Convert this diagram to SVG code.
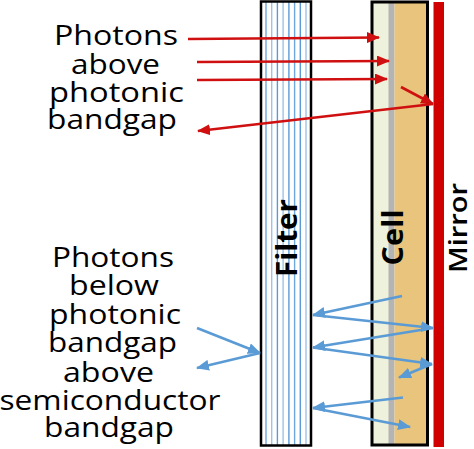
<svg xmlns="http://www.w3.org/2000/svg" width="474" height="449" viewBox="0 0 474 449">
<defs>
<style>
.lbl{font-family:"Open Sans","Liberation Sans",sans-serif;font-size:27px;fill:#000;text-anchor:middle}
.rot{font-family:"Open Sans","Liberation Sans",sans-serif;font-weight:bold;font-size:28px;fill:#000;text-anchor:middle}
.red{stroke:#d01010;stroke-width:2.6;fill:none}
.blue{stroke:#5b9bd5;stroke-width:2.6;fill:none}
.fl{stroke-width:1.4}
</style>
<marker id="ahr" markerUnits="userSpaceOnUse" markerWidth="13" markerHeight="11" refX="12" refY="5.5" orient="auto">
<path d="M0,0 L13,5.5 L0,11 z" fill="#d01010"/>
</marker>
<marker id="ahb" markerUnits="userSpaceOnUse" markerWidth="13" markerHeight="11" refX="12" refY="5.5" orient="auto">
<path d="M0,0 L13,5.5 L0,11 z" fill="#5b9bd5"/>
</marker>
</defs>
<rect width="474" height="449" fill="#fff"/>

<g id="filter">
<rect x="261" y="1.5" width="50" height="444" fill="#fff"/>
<g class="fl">
<line x1="266" y1="2" x2="266" y2="445" stroke="#6fa8dc"/>
<line x1="271.7" y1="2" x2="271.7" y2="445" stroke="#9dc3e6"/>
<line x1="277.4" y1="2" x2="277.4" y2="445" stroke="#5b9bd5"/>
<line x1="283.1" y1="2" x2="283.1" y2="445" stroke="#9dc3e6"/>
<line x1="288.9" y1="2" x2="288.9" y2="445" stroke="#5b9bd5"/>
<line x1="294.6" y1="2" x2="294.6" y2="445" stroke="#6fa8dc"/>
<line x1="300.3" y1="2" x2="300.3" y2="445" stroke="#5b9bd5"/>
<line x1="306" y1="2" x2="306" y2="445" stroke="#9dc3e6"/>
</g>
<rect x="261" y="1.5" width="50" height="444" fill="none" stroke="#000" stroke-width="2.5"/>
<text class="rot" transform="translate(297,238) rotate(-90)" textLength="78" lengthAdjust="spacingAndGlyphs">Filter</text>
</g>

<g id="cell">
<rect x="372" y="2" width="17" height="443" fill="#eef2dc"/>
<rect x="388.5" y="2" width="6" height="443" fill="#b4b4b4"/>
<rect x="394.5" y="2" width="33" height="443" fill="#e8c47c"/>
<rect x="372" y="2" width="55.5" height="443" fill="none" stroke="#000" stroke-width="3"/>
<text class="rot" transform="translate(403,237.5) rotate(-90)" textLength="56" lengthAdjust="spacingAndGlyphs">Cell</text>
</g>

<g id="mirror">
<rect x="433.5" y="2" width="10.5" height="445" fill="#d00000"/>
<text class="rot" style="font-weight:600;font-size:25px" transform="translate(467,228) rotate(-90)" textLength="90" lengthAdjust="spacingAndGlyphs">Mirror</text>
</g>

<g id="label-above">
<text class="lbl" x="116" y="45" textLength="124" lengthAdjust="spacingAndGlyphs">Photons</text>
<text class="lbl" x="115.5" y="74" textLength="89" lengthAdjust="spacingAndGlyphs">above</text>
<text class="lbl" x="116.5" y="101.5" textLength="135" lengthAdjust="spacingAndGlyphs">photonic</text>
<text class="lbl" x="112" y="129" textLength="130" lengthAdjust="spacingAndGlyphs">bandgap</text>
</g>

<g id="label-below">
<text class="lbl" x="113" y="267" textLength="122" lengthAdjust="spacingAndGlyphs">Photons</text>
<text class="lbl" x="114" y="295" textLength="90" lengthAdjust="spacingAndGlyphs">below</text>
<text class="lbl" x="115" y="324" textLength="132" lengthAdjust="spacingAndGlyphs">photonic</text>
<text class="lbl" x="112.5" y="352" textLength="129" lengthAdjust="spacingAndGlyphs">bandgap</text>
<text class="lbl" x="108.5" y="381.5" textLength="91" lengthAdjust="spacingAndGlyphs">above</text>
<text class="lbl" x="110" y="410" textLength="221" lengthAdjust="spacingAndGlyphs">semiconductor</text>
<text class="lbl" x="109" y="437" textLength="130" lengthAdjust="spacingAndGlyphs">bandgap</text>
</g>

<g id="connectors">
<line class="red" x1="188" y1="39" x2="379" y2="37.5" marker-end="url(#ahr)"/>
<line class="red" x1="197" y1="62" x2="389" y2="61" marker-end="url(#ahr)"/>
<line class="red" x1="197" y1="80" x2="387" y2="79" marker-end="url(#ahr)"/>
<line class="red" x1="401" y1="87" x2="433" y2="104" marker-end="url(#ahr)"/>
<line class="red" x1="433" y1="104" x2="198" y2="131" marker-end="url(#ahr)"/>

<line class="blue" x1="197" y1="328" x2="260" y2="353" marker-end="url(#ahb)"/>
<line class="blue" x1="260" y1="353" x2="197" y2="368" marker-end="url(#ahb)"/>
<line class="blue" x1="402" y1="296" x2="313" y2="315" marker-end="url(#ahb)"/>
<line class="blue" x1="313" y1="315" x2="433" y2="328" marker-end="url(#ahb)"/>
<line class="blue" x1="433" y1="328" x2="313" y2="347.5" marker-end="url(#ahb)"/>
<line class="blue" x1="313" y1="347.5" x2="432" y2="364" marker-end="url(#ahb)"/>
<line class="blue" x1="432" y1="364" x2="399" y2="377.5" marker-end="url(#ahb)"/>
<line class="blue" x1="403" y1="397.5" x2="313" y2="408" marker-end="url(#ahb)"/>
<line class="blue" x1="313" y1="408" x2="410" y2="427" marker-end="url(#ahb)"/>
</g>
</svg>
